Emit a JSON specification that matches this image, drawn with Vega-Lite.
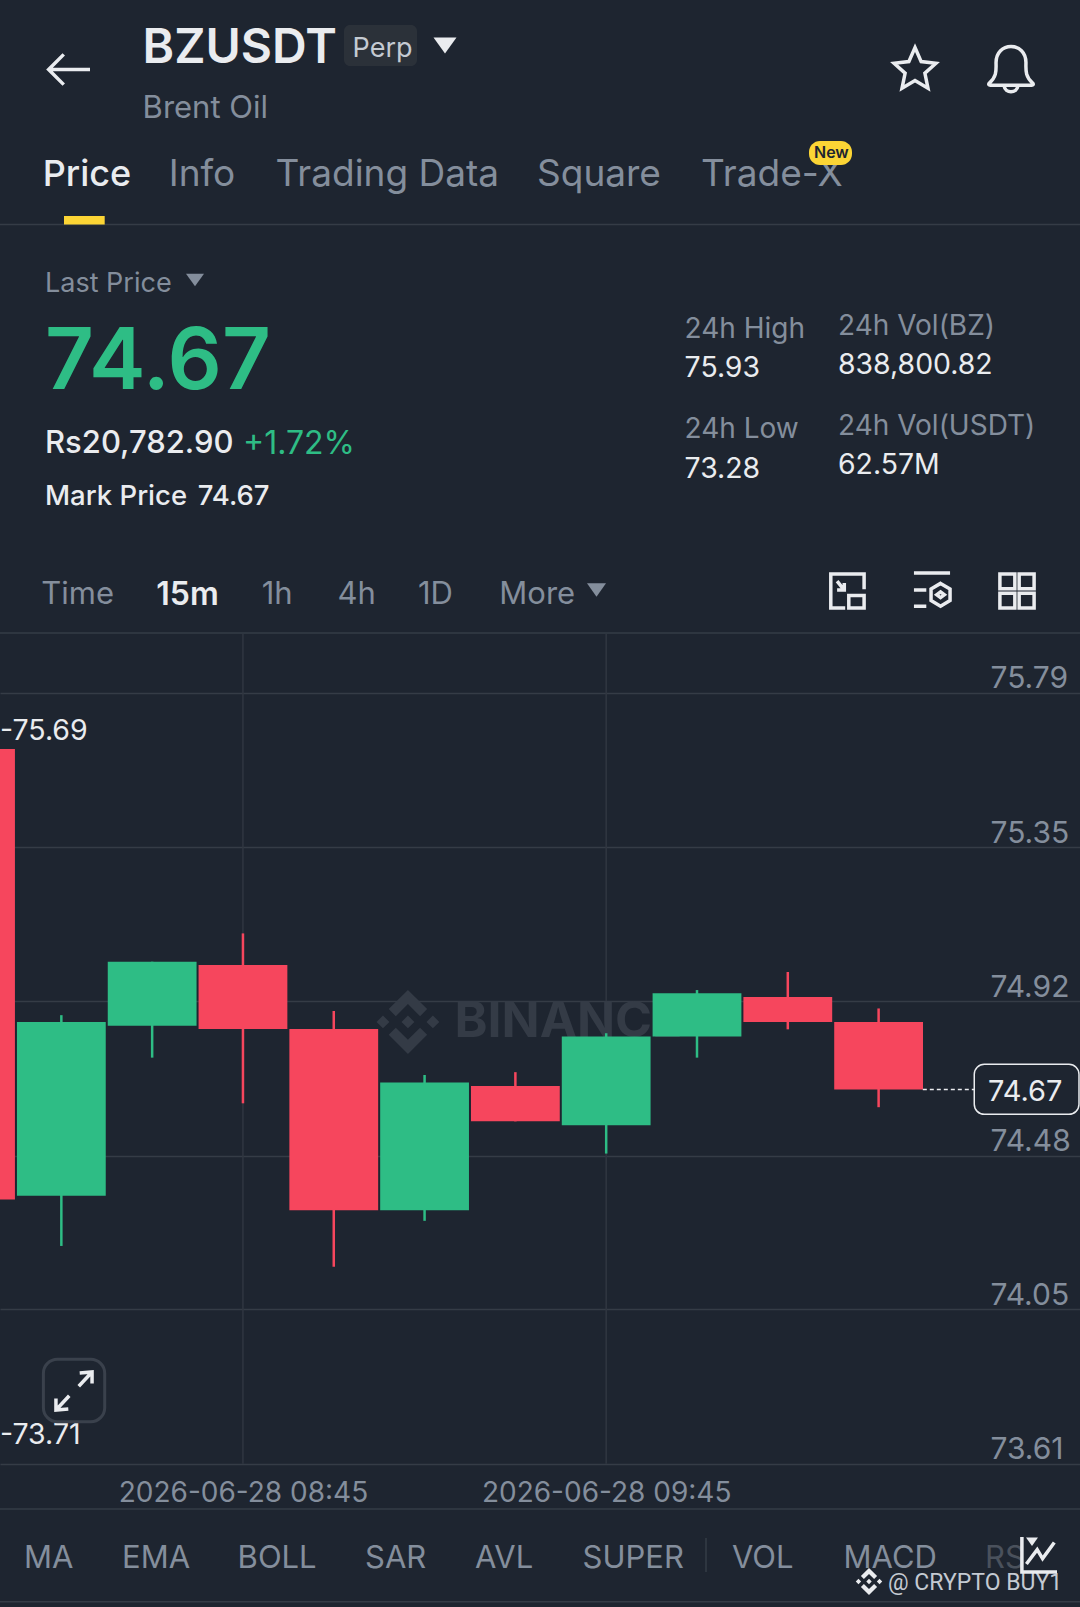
{
  "$schema": "https://vega.github.io/schema/vega-lite/v6.json",
  "width": 1080,
  "height": 1607,
  "padding": 0,
  "autosize": {"type": "none"},
  "background": "#1E2530",
  "config": {"view": {"stroke": null}, "font": "Inter"},
  "datasets": {
    "candles": [
      {"time": "2026-06-28T08:00:00", "open": 75.629, "high": 75.69, "low": 73.71, "close": 74.356, "dir": "down"},
      {"time": "2026-06-28T08:15:00", "open": 74.367, "high": 74.877, "low": 74.225, "close": 74.858, "dir": "up"},
      {"time": "2026-06-28T08:30:00", "open": 74.847, "high": 75.028, "low": 74.757, "close": 75.028, "dir": "up"},
      {"time": "2026-06-28T08:45:00", "open": 75.019, "high": 75.108, "low": 74.628, "close": 74.838, "dir": "down"},
      {"time": "2026-06-28T09:00:00", "open": 74.838, "high": 74.889, "low": 74.166, "close": 74.326, "dir": "down"},
      {"time": "2026-06-28T09:15:00", "open": 74.326, "high": 74.708, "low": 74.296, "close": 74.687, "dir": "up"},
      {"time": "2026-06-28T09:30:00", "open": 74.677, "high": 74.716, "low": 74.577, "close": 74.577, "dir": "down"},
      {"time": "2026-06-28T09:45:00", "open": 74.566, "high": 74.826, "low": 74.486, "close": 74.817, "dir": "up"},
      {"time": "2026-06-28T10:00:00", "open": 74.817, "high": 74.948, "low": 74.757, "close": 74.939, "dir": "up"},
      {"time": "2026-06-28T10:15:00", "open": 74.928, "high": 74.999, "low": 74.837, "close": 74.858, "dir": "down"},
      {"time": "2026-06-28T10:30:00", "open": 74.858, "high": 74.896, "low": 74.617, "close": 74.667, "dir": "down"}
    ],
    "labels": [
      {"label": "BZUSDT", "col": 11, "line": 2, "role": "title"},
      {"label": "Perp", "col": 22, "line": 2, "role": "perp"},
      {"label": "Brent Oil", "col": 11, "line": 5, "role": "sub"},
      {"label": "Price", "col": 3, "line": 9, "role": "tabactive"},
      {"label": "Info", "col": 13, "line": 9, "role": "tab"},
      {"label": "Trading Data", "col": 19, "line": 9, "role": "tab"},
      {"label": "Square", "col": 29, "line": 9, "role": "tab"},
      {"label": "Trade-X", "col": 33, "line": 9, "role": "tab"},
      {"label": "New", "col": 37, "line": 7, "role": "badge"},
      {"label": "Last Price", "col": 5, "line": 13, "role": "lastprice"},
      {"label": "74.67", "col": 5, "line": 16, "role": "bigprice"},
      {"label": "Rs20,782.90", "col": 5, "line": 21, "role": "rs"},
      {"label": "+1.72%", "col": 17, "line": 21, "role": "gain"},
      {"label": "Mark Price", "col": 5, "line": 24, "role": "mark"},
      {"label": "74.67", "col": 15, "line": 24, "role": "mark"},
      {"label": "24h High", "col": 32, "line": 15, "role": "label"},
      {"label": "75.93", "col": 32, "line": 18, "role": "value"},
      {"label": "24h Vol(BZ)", "col": 38, "line": 14, "role": "label"},
      {"label": "838,800.82", "col": 38, "line": 17, "role": "value"},
      {"label": "24h Low", "col": 32, "line": 20, "role": "label"},
      {"label": "73.28", "col": 32, "line": 23, "role": "value"},
      {"label": "24h Vol(USDT)", "col": 38, "line": 19, "role": "label"},
      {"label": "62.57M", "col": 38, "line": 22, "role": "value"},
      {"label": "Time", "col": 2, "line": 27, "role": "range"},
      {"label": "15m", "col": 12, "line": 27, "role": "rangeactive"},
      {"label": "1h", "col": 18, "line": 27, "role": "range"},
      {"label": "4h", "col": 20, "line": 27, "role": "range"},
      {"label": "1D", "col": 25, "line": 27, "role": "range"},
      {"label": "More", "col": 28, "line": 27, "role": "range"},
      {"label": "MA", "col": 1, "line": 36, "role": "range"},
      {"label": "EMA", "col": 10, "line": 36, "role": "range"},
      {"label": "BOLL", "col": 16, "line": 36, "role": "range"},
      {"label": "SAR", "col": 23, "line": 36, "role": "range"},
      {"label": "AVL", "col": 27, "line": 36, "role": "range"},
      {"label": "SUPER", "col": 30, "line": 36, "role": "range"},
      {"label": "VOL", "col": 35, "line": 36, "role": "range"},
      {"label": "MACD", "col": 39, "line": 36, "role": "range"},
      {"label": "RS", "col": 46, "line": 36, "role": "dim"},
      {"label": "@ CRYPTO BUY1", "col": 43, "line": 38, "role": "credit"}
    ]
  },
  "resolve": {
    "scale": {"x": "independent", "y": "independent", "color": "independent", "size": "independent", "shape": "independent"},
    "axis": {"x": "independent", "y": "independent"}
  },
  "layer": [
    {
      "encoding": {
        "x": {
          "field": "time",
          "type": "temporal",
          "title": null,
          "scale": {
            "domain": [
              {"year": 2026, "month": 6, "date": 28, "hours": 8, "minutes": 4, "seconds": 52},
              {"year": 2026, "month": 6, "date": 28, "hours": 11, "minutes": 3, "seconds": 16}
            ],
            "nice": false,
            "padding": 0
          },
          "axis": {
            "orient": "bottom",
            "values": [
              {"year": 2026, "month": 6, "date": 28, "hours": 8, "minutes": 45},
              {"year": 2026, "month": 6, "date": 28, "hours": 9, "minutes": 45}
            ],
            "format": "%Y-%m-%d %H:%M",
            "grid": false,
            "domain": false,
            "ticks": false,
            "labelFontSize": 28,
            "labelColor": "#848E9C",
            "labelBaseline": "middle",
            "labelPadding": -114,
            "labelFlush": false,
            "labelLimit": 400,
            "labelOverlap": false
          }
        },
        "y": {
          "field": "price",
          "type": "quantitative",
          "title": null,
          "scale": {"domain": [73.205, 77.745], "nice": false, "zero": false, "padding": 0},
          "axis": {
            "orient": "right",
            "values": [75.788, 75.352, 74.916, 74.48, 74.046, 73.61],
            "format": ".2f",
            "grid": true,
            "gridColor": "#353C46",
            "gridWidth": 1.5,
            "domain": false,
            "ticks": false,
            "labelFontSize": 30,
            "labelColor": "#848E9C",
            "labelAlign": "left",
            "labelBaseline": "middle",
            "labelPadding": -90,
            "labelOffset": -14,
            "labelOverlap": false
          }
        }
      },
      "layer": [
        {
          "data": {"values": [
            {"time": "2026-06-28T08:45:00", "price": 75.954, "price2": 73.61},
            {"time": "2026-06-28T09:45:00", "price": 75.954, "price2": 73.61}
          ]},
          "mark": {"type": "rule", "stroke": "#303741", "strokeWidth": 1.5},
          "encoding": {"y2": {"field": "price2"}}
        },
        {
          "data": {"values": [{"label": "BINANCE", "time": "2026-06-28T09:19:56", "price": 74.858}]},
          "mark": {"type": "text", "align": "left", "baseline": "middle", "fontSize": 50, "fontWeight": 700, "fill": "#343B46"},
          "encoding": {"text": {"field": "label"}}
        },
        {
          "data": {"values": [{"time": "2026-06-28T09:12:15", "price": 74.858}]},
          "mark": {"type": "point", "filled": true, "fill": "#343B46", "opacity": 1, "size": 4096, "shape": "M0 -.2L.2 0L0 .2L-.2 0ZM-.98 0L-.78 -.2L-.58 0L-.78 .2ZM.98 0L.78 -.2L.58 0L.78 .2ZM0 -1L.6 -.4L.38 -.18L0 -.56L-.38 -.18L-.6 -.4ZM0 1L.6 .4L.38 .18L0 .56L-.38 .18L-.6 .4Z"}
        },
        {
          "data": {"name": "candles"},
          "mark": {"type": "rule", "strokeWidth": 2.5, "clip": true},
          "encoding": {
            "y": {
              "field": "low",
              "type": "quantitative",
              "title": null,
              "axis": {
                "orient": "right",
                "values": [75.788, 75.352, 74.916, 74.48, 74.046, 73.61],
                "format": ".2f",
                "grid": true,
                "gridColor": "#353C46",
                "gridWidth": 1.5,
                "domain": false,
                "ticks": false,
                "labelFontSize": 30,
                "labelColor": "#848E9C",
                "labelAlign": "left",
                "labelBaseline": "middle",
                "labelPadding": -90,
                "labelOffset": -14,
                "labelOverlap": false
              }
            },
            "y2": {"field": "high"},
            "color": {"field": "dir", "type": "nominal", "legend": null, "scale": {"domain": ["up", "down"], "range": ["#2EBD85", "#F6465D"]}}
          }
        },
        {
          "data": {"name": "candles"},
          "mark": {"type": "bar", "size": 88.8, "clip": true},
          "encoding": {
            "y": {
              "field": "open",
              "type": "quantitative",
              "title": null,
              "axis": {
                "orient": "right",
                "values": [75.788, 75.352, 74.916, 74.48, 74.046, 73.61],
                "format": ".2f",
                "grid": true,
                "gridColor": "#353C46",
                "gridWidth": 1.5,
                "domain": false,
                "ticks": false,
                "labelFontSize": 30,
                "labelColor": "#848E9C",
                "labelAlign": "left",
                "labelBaseline": "middle",
                "labelPadding": -90,
                "labelOffset": -14,
                "labelOverlap": false
              }
            },
            "y2": {"field": "close"},
            "color": {"field": "dir", "type": "nominal", "legend": null, "scale": {"domain": ["up", "down"], "range": ["#2EBD85", "#F6465D"]}}
          }
        },
        {
          "data": {"values": [{"time": "2026-06-28T10:37:18", "time2": "2026-06-28T10:45:48", "price": 74.667}]},
          "mark": {"type": "rule", "stroke": "#EAECEF", "strokeWidth": 1.5, "strokeDash": [4, 3]},
          "encoding": {"x2": {"field": "time2"}}
        },
        {
          "data": {"values": [{"time": "2026-06-28T10:45:48", "time2": "2026-06-28T11:03:06", "price": 74.738, "price2": 74.597}]},
          "mark": {"type": "rect", "fill": "#1E2530", "stroke": "#EAECEF", "strokeWidth": 1.5, "cornerRadius": 10},
          "encoding": {"x2": {"field": "time2"}, "y2": {"field": "price2"}}
        },
        {
          "data": {"values": [{"label": "74.67", "time": "2026-06-28T10:48:04", "price": 74.66}]},
          "mark": {"type": "text", "align": "left", "baseline": "middle", "fontSize": 29, "fill": "#EAECEF"},
          "encoding": {"text": {"field": "label"}}
        },
        {
          "data": {"values": [
            {"label": "-75.69", "time": "2026-06-28T08:04:52", "price": 75.688},
            {"label": "-73.71", "time": "2026-06-28T08:04:52", "price": 73.70}
          ]},
          "mark": {"type": "text", "align": "left", "baseline": "middle", "dy": 3, "fontSize": 28.5, "fill": "#EAECEF"},
          "encoding": {"text": {"field": "label"}}
        }
      ]
    },
    {
      "encoding": {
        "x": {
          "field": "col",
          "type": "quantitative",
          "axis": null,
          "scale": {
            "domain": [0,1,2,3,4,5,6,7,8,9,10,11,12,13,14,15,16,17,18,19,20,21,22,23,24,25,26,27,28,29,30,31,32,33,34,35,36,37,38,39,40,41,42,43,44,45,46,47,48,49,50,51],
            "range": [0,24,41.3,42.7,43.4,45,64,69,74,104.7,122,142.6,156.3,168.7,195,197.7,237.6,243,261.7,275.5,337.5,344,352.6,365,417,418,445,475,499.3,537,582.6,596.5,684.6,701,706,732,809,814,838,843.6,847,852,869,888,915,932,985,1011,1017,1032,1039,1080],
            "nice": false,
            "zero": false
          }
        },
        "y": {
          "field": "line",
          "type": "quantitative",
          "axis": null,
          "scale": {
            "domain": [0,1,2,3,4,5,6,7,8,9,10,11,12,13,14,15,16,17,18,19,20,21,22,23,24,25,26,27,28,29,30,31,32,33,34,35,36,37,38,39],
            "range": [25,45.5,47,66,69.5,107,141,153,165,173,216,224.5,280,281.6,325,327.8,360.5,363,366,424.5,427.8,441.6,463.3,466.5,495,590,591,592.7,633,1359.3,1391,1421.7,1509,1538,1541.7,1555,1557.3,1572,1581.5,1601.7],
            "nice": false,
            "zero": false
          }
        }
      },
      "resolve": {"scale": {"color": "independent", "size": "independent", "shape": "independent"}},
      "layer": [
        {
          "data": {"values": [
            {"col": 0, "col2": 51, "line": 11},
            {"col": 0, "col2": 51, "line": 28},
            {"col": 0, "col2": 51, "line": 32},
            {"col": 0, "col2": 51, "line": 39}
          ]},
          "mark": {"type": "rule", "stroke": "#353C46", "strokeWidth": 1.5},
          "encoding": {"x2": {"field": "col2"}}
        },
        {
          "data": {"values": [{"col": 34, "line": 33, "line2": 37}]},
          "mark": {"type": "rule", "stroke": "#353C46", "strokeWidth": 1.5},
          "encoding": {"y2": {"field": "line2"}}
        },
        {
          "data": {"values": [{"col": 21, "col2": 24, "line": 0, "line2": 3}]},
          "mark": {"type": "rect", "fill": "#2B3139", "cornerRadius": 6},
          "encoding": {"x2": {"field": "col2"}, "y2": {"field": "line2"}}
        },
        {
          "data": {"values": [{"col": 4, "col2": 9, "line": 29, "line2": 31}]},
          "mark": {"type": "rect", "fill": "transparent", "stroke": "#3A414C", "strokeWidth": 3, "cornerRadius": 14},
          "encoding": {"x2": {"field": "col2"}, "y2": {"field": "line2"}}
        },
        {
          "data": {"name": "labels"},
          "transform": [{"filter": "indexof(['perp','sub','tab','label','lastprice','gain','value','range','dim'], datum.role) >= 0"}],
          "mark": {"type": "text", "align": "left", "baseline": "middle", "dy": 2},
          "encoding": {
            "text": {"field": "label"},
            "size": {"field": "role", "type": "nominal", "legend": null, "scale": {
              "type": "ordinal",
              "domain": ["perp", "sub", "tab", "label", "lastprice", "gain", "value", "range", "dim"],
              "range": [27, 31, 37, 28, 27, 32, 28.4, 31, 31]
            }},
            "color": {"field": "role", "type": "nominal", "legend": null, "scale": {
              "domain": ["perp", "sub", "tab", "label", "lastprice", "gain", "value", "range", "dim"],
              "range": ["#C4CAD2", "#848E9C", "#848E9C", "#848E9C", "#848E9C", "#2EBD85", "#EAECEF", "#848E9C", "#4A515C"]
            }}
          }
        },
        {
          "data": {"name": "labels"},
          "transform": [{"filter": "indexof(['tabactive','rs','mark'], datum.role) >= 0"}],
          "mark": {"type": "text", "align": "left", "baseline": "middle", "dy": 2, "fontWeight": 500, "fill": "#EAECEF"},
          "encoding": {
            "text": {"field": "label"},
            "size": {"field": "role", "type": "nominal", "legend": null, "scale": {
              "type": "ordinal",
              "domain": ["tabactive", "rs", "mark"],
              "range": [36, 31, 27.5]
            }}
          }
        },
        {
          "data": {"name": "labels"},
          "transform": [{"filter": "indexof(['title','bigprice','rangeactive'], datum.role) >= 0"}],
          "mark": {"type": "text", "align": "left", "baseline": "middle", "dy": 2, "fontWeight": 600},
          "encoding": {
            "text": {"field": "label"},
            "size": {"field": "role", "type": "nominal", "legend": null, "scale": {
              "type": "ordinal",
              "domain": ["title", "bigprice", "rangeactive"],
              "range": [48, 85, 32]
            }},
            "color": {"field": "role", "type": "nominal", "legend": null, "scale": {
              "domain": ["title", "bigprice", "rangeactive"],
              "range": ["#EAECEF", "#2EBD85", "#EAECEF"]
            }}
          }
        },
        {
          "data": {"name": "labels"},
          "transform": [{"filter": "datum.role === 'credit'"}],
          "mark": {"type": "text", "align": "left", "baseline": "middle", "dy": 1, "font": "Roboto", "fontSize": 23, "fill": "#C4CAD2"},
          "encoding": {"text": {"field": "label"}}
        },
        {
          "data": {"values": [{"col": 6, "col2": 9, "line": 10, "line2": 11}]},
          "mark": {"type": "rect", "fill": "#FCD535"},
          "encoding": {"x2": {"field": "col2"}, "y2": {"field": "line2"}}
        },
        {
          "data": {"values": [{"col": 36, "col2": 41, "line": 6, "line2": 8}]},
          "mark": {"type": "rect", "fill": "#FCD535", "cornerRadius": 11},
          "encoding": {"x2": {"field": "col2"}, "y2": {"field": "line2"}}
        },
        {
          "data": {"name": "labels"},
          "transform": [{"filter": "datum.role === 'badge'"}],
          "mark": {"type": "text", "align": "left", "baseline": "middle", "fontSize": 16, "fontWeight": 600, "fill": "#1E2530"},
          "encoding": {"text": {"field": "label"}}
        },
        {
          "data": {"values": [
            {"icon": "back", "col": 7, "line": 4},
            {"icon": "star", "col": 44, "line": 4},
            {"icon": "bell", "col": 47, "line": 4},
            {"icon": "crop", "col": 40, "line": 26},
            {"icon": "filter", "col": 45, "line": 26},
            {"icon": "grid", "col": 48, "line": 26},
            {"icon": "expand", "col": 8, "line": 30},
            {"icon": "chart", "col": 50, "line": 35}
          ]},
          "mark": {"type": "point", "filled": false, "opacity": 1, "stroke": "#EAECEF", "strokeWidth": 3.5},
          "encoding": {
            "shape": {"field": "icon", "type": "nominal", "legend": null, "scale": {
              "domain": ["back", "star", "bell", "crop", "filter", "grid", "expand", "chart"],
              "range": [
                "M1 0L-.95 0M-.25 -.72L-.97 0L-.25 .72",
                "M0 -1L.28 -.36L.95 -.28L.45 .17L.59 .85L0 .5L-.59 .85L-.45 .17L-.95 -.28L-.28 -.36Z",
                "M-.95 .6C-.6 .3 -.65 0 -.65 -.3C-.65 -.75 -.35 -1 0 -1C.35 -1 .65 -.75 .65 -.3C.65 0 .6 .3 .95 .6Q1 .68 .9 .68L-.9 .68Q-1 .68 -.95 .6ZM-.3 .72C-.25 1.05 .25 1.05 .3 .72",
                "M-.1 .95L-.9 .95L-.9 -.95L.95 -.95L.95 -.1M-.55 -.55L-.15 -.05M-.15 -.45L-.15 -.05L-.55 -.05M.1 .25L.95 .25L.95 .95L.1 .95Z",
                "M-.95 -.95L.95 -.95M-.95 -.05L-.3 -.05M-.95 .8L-.3 .8M.45 -.4L.95 -.1L.95 .5L.45 .8L-.05 .5L-.05 -.1ZM.45 .05L.65 .2L.45 .35L.25 .2Z",
                "M-.95 -.95L-.12 -.95L-.12 -.12L-.95 -.12ZM.12 -.95L.95 -.95L.95 -.12L.12 -.12ZM-.95 .12L-.12 .12L-.12 .95L-.95 .95ZM.12 .12L.95 .12L.95 .95L.12 .95Z",
                "M.25 -.25L.9 -.95M.3 -.95L.95 -1L.95 -.4M-.25 .25L-.9 .95M-.3 .95L-.95 1L-.95 .4",
                "M-.95 -1L-.95 .95L1 .95M-.7 .5L-.1 -.3L.2 .2L.85 -.7"
              ]
            }},
            "size": {"field": "icon", "type": "nominal", "legend": null, "scale": {
              "type": "ordinal",
              "domain": ["back", "star", "bell", "crop", "filter", "grid", "expand", "chart"],
              "range": [1764, 1936, 2116, 1296, 1444, 1296, 1444, 1296]
            }}
          }
        },
        {
          "data": {"values": [
            {"icon": "caret", "col": 26, "line": 1},
            {"icon": "muted", "col": 14, "line": 12},
            {"icon": "more", "col": 31, "line": 25},
            {"icon": "tiny", "col": 49, "line": 34},
            {"icon": "logo", "col": 42, "line": 38}
          ]},
          "mark": {"type": "point", "filled": true, "opacity": 1},
          "encoding": {
            "shape": {"field": "icon", "type": "nominal", "legend": null, "scale": {
              "domain": ["caret", "muted", "more", "tiny", "logo"],
              "range": [
                "M-1 -.7L1 -.7L0 .7Z",
                "M-1 -.7L1 -.7L0 .7Z",
                "M-1 -.7L1 -.7L0 .7Z",
                "M-1 -.7L1 -.7L0 .7Z",
                "M0 -.2L.2 0L0 .2L-.2 0ZM-.98 0L-.78 -.2L-.58 0L-.78 .2ZM.98 0L.78 -.2L.58 0L.78 .2ZM0 -1L.6 -.4L.38 -.18L0 -.56L-.38 -.18L-.6 -.4ZM0 1L.6 .4L.38 .18L0 .56L-.38 .18L-.6 .4Z"
              ]
            }},
            "size": {"field": "icon", "type": "nominal", "legend": null, "scale": {
              "type": "ordinal",
              "domain": ["caret", "muted", "more", "tiny", "logo"],
              "range": [529, 324, 361, 144, 729]
            }},
            "color": {"field": "icon", "type": "nominal", "legend": null, "scale": {
              "domain": ["caret", "muted", "more", "tiny", "logo"],
              "range": ["#EAECEF", "#848E9C", "#848E9C", "#EAECEF", "#EAECEF"]
            }}
          }
        }
      ]
    }
  ]
}
